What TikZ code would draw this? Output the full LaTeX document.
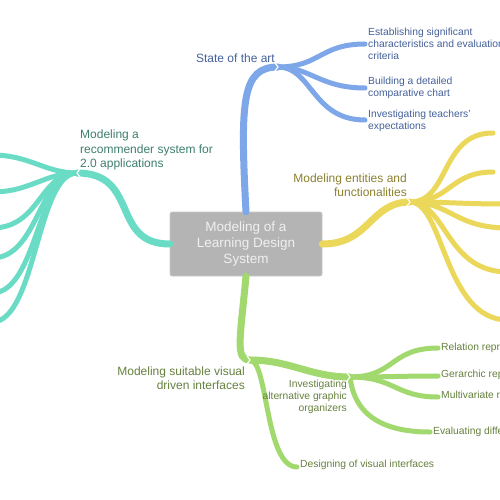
\documentclass[tikz,border=0pt]{standalone}
\usepackage{fontspec}
\setmainfont{Liberation Sans}
\begin{document}
\begin{tikzpicture}[x=1pt,y=-1pt,
  br/.style={line width=7pt,line cap=round},
  lf/.style={line width=5pt,line cap=round},
  bluel/.style={draw=blueL}, teall/.style={draw=tealL},
  yell/.style={draw=yelL}, greenl/.style={draw=greenL},
  notch/.style={draw=white,line width=1.1pt},
  maintxt/.style={font=\fontsize{12}{14.5}\selectfont,inner sep=0pt},
  leaftxt/.style={font=\fontsize{10.3}{12}\selectfont,inner sep=0pt,align=left,anchor=west},
  rootbox/.style={fill=boxG,draw=boxB,line width=0.6pt,rounded corners=2pt,minimum width=152pt,minimum height=64pt,
    text=white!94!black,font=\fontsize{13.5}{16}\selectfont,align=center,inner sep=0pt}
]
\definecolor{blueL}{HTML}{7DA7E8}\definecolor{blueT}{HTML}{45619A}
\definecolor{tealL}{HTML}{6ADCC5}\definecolor{tealT}{HTML}{3F7F6E}
\definecolor{yelL}{HTML}{EBD75A}\definecolor{yelT}{HTML}{8C8030}
\definecolor{greenL}{HTML}{A2D96E}\definecolor{greenT}{HTML}{66813F}
\definecolor{boxG}{HTML}{B4B4B4}\definecolor{boxB}{HTML}{C8C8C8}
\useasboundingbox (0,0) rectangle (500,500);
\clip (0,0) rectangle (500,500);
\fill[white] (0,0) rectangle (500,500);

% junction coordinates
\coordinate (jsa) at (278,67);
\coordinate (jrs) at (77,173);
\coordinate (jen) at (410,202);
\coordinate (jvi) at (250,360);
\coordinate (jig) at (350,377);
% leaf ends
\coordinate (b1) at (365,44);\coordinate (b2) at (365,88);\coordinate (b3) at (365,120);
\coordinate (t1) at (-8,155);\coordinate (t2) at (-8,192);\coordinate (t3) at (-8,228);
\coordinate (t4) at (-8,258);\coordinate (t5) at (-8,293);\coordinate (t6) at (-8,322);
\coordinate (y1) at (493,133);\coordinate (y2) at (493,172);\coordinate (y3) at (508,204);
\coordinate (y4) at (508,228);\coordinate (y5) at (508,272);\coordinate (y6) at (508,320);
\coordinate (g1) at (438,348);\coordinate (g2) at (438,376);\coordinate (g3) at (438,397);
\coordinate (g4) at (430,432);\coordinate (g5) at (297,467);

\node[rootbox] (root) at (246,244) {Modeling of a\\Learning Design\\System};

% blue
\draw[br,bluel] (root.north) .. controls (240,100) and (242,67) .. (jsa);
\draw[lf,bluel] (jsa) .. controls (320,67) and (320,44) .. (b1);
\draw[lf,bluel] (jsa) .. controls (310,67) and (320,88) .. (b2);
\draw[lf,bluel] (jsa) .. controls (312,67) and (312,120) .. (b3);
% teal
\draw[br,teall] (root.west) .. controls (110,244) and (140,173) .. (jrs);
\draw[lf,teall] (jrs) .. controls (45,173) and (30,155) .. (t1);
\draw[lf,teall] (jrs) .. controls (45,173) and (30,192) .. (t2);
\draw[lf,teall] (jrs) .. controls (40,173) and (40,228) .. (t3);
\draw[lf,teall] (jrs) .. controls (39,173) and (38,258) .. (t4);
\draw[lf,teall] (jrs) .. controls (38,173) and (37,293) .. (t5);
\draw[lf,teall] (jrs) .. controls (37,173) and (36,322) .. (t6);
% yellow
\draw[br,yell] (root.east) .. controls (370,244) and (370,202) .. (jen);
\draw[lf,yell] (jen) .. controls (450,202) and (440,133) .. (y1);
\draw[lf,yell] (jen) .. controls (450,202) and (450,172) .. (y2);
\draw[lf,yell] (jen) .. controls (450,202) and (460,204) .. (y3);
\draw[lf,yell] (jen) .. controls (450,202) and (455,228) .. (y4);
\draw[lf,yell] (jen) .. controls (446,202) and (446,272) .. (y5);
\draw[lf,yell] (jen) .. controls (444,202) and (444,320) .. (y6);
% green
\draw[br,greenl] (root.south) .. controls (240,340) and (235,360) .. (jvi);
\draw[br,greenl] (jvi) .. controls (290,360) and (310,377) .. (jig);
\draw[lf,greenl] (jvi) .. controls (268,360) and (265,467) .. (g5);
\draw[lf,greenl] (jig) .. controls (395,377) and (390,348) .. (g1);
\draw[lf,greenl] (jig) .. controls (390,377) and (400,376) .. (g2);
\draw[lf,greenl] (jig) .. controls (395,377) and (395,397) .. (g3);
\draw[lf,greenl] (jig) .. controls (355,420) and (390,432) .. (g4);

% junction notches
\draw[notch] ([shift={(-3,-4)}]jsa) -- (jsa) -- ([shift={(-3,4)}]jsa);
\draw[notch] ([shift={(3,-4)}]jrs) -- (jrs) -- ([shift={(3,4)}]jrs);
\draw[notch] ([shift={(-3,-4)}]jen) -- (jen) -- ([shift={(-3,4)}]jen);
\draw[notch] ([shift={(-3,-4)}]jvi) -- (jvi) -- ([shift={(-3,4)}]jvi);
\draw[notch] ([shift={(-3,-4)}]jig) -- (jig) -- ([shift={(-3,4)}]jig);

% labels
\node[maintxt,text=blueT,anchor=east] (sa) at (275,58) {State of the art};
\node[maintxt,text=tealT,anchor=west,align=left] (rs) at (80,150) {Modeling a\\recommender system for\\2.0 applications};
\node[maintxt,text=yelT,anchor=east,align=right] (en) at (407,185) {Modeling entities and\\functionalities};
\node[maintxt,text=greenT,anchor=east,align=right] (vi) at (245,378) {Modeling suitable visual\\driven interfaces};
\node[leaftxt,text=greenT,anchor=east,align=right] (ig) at (347,397) {Investigating\\alternative graphic\\organizers};

\node[leaftxt,text=blueT] (lb1) at (368,44) {Establishing significant\\characteristics and evaluation\\criteria};
\node[leaftxt,text=blueT] (lb2) at (368,88) {Building a detailed\\comparative chart};
\node[leaftxt,text=blueT] (lb3) at (368,121) {Investigating teachers'\\expectations};
\node[leaftxt,text=greenT] (lg1) at (441,348) {Relation representation};
\node[leaftxt,text=greenT] (lg2) at (441,375) {Gerarchic representation};
\node[leaftxt,text=greenT] (lg3) at (441,396) {Multivariate representation};
\node[leaftxt,text=greenT] (lg4) at (433,432) {Evaluating differences};
\node[leaftxt,text=greenT] (lg5) at (300,465) {Designing of visual interfaces};
\end{tikzpicture}
\end{document}
